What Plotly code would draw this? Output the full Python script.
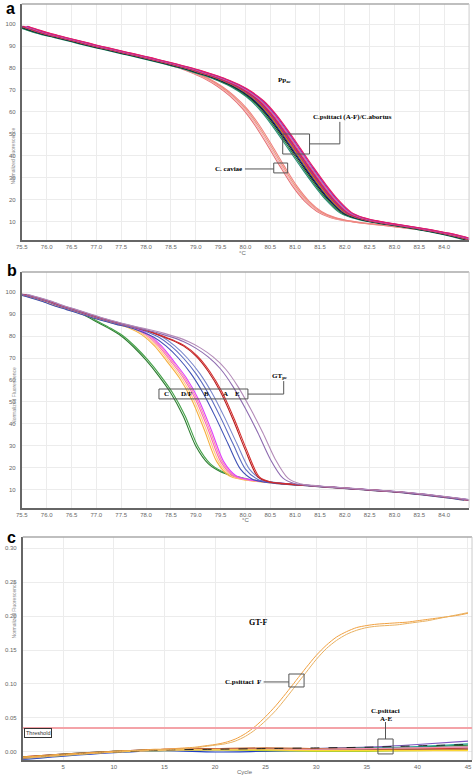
import plotly.graph_objects as go

W, H = 474, 775

# ---------------- DATA ----------------
TEMPS = [75.5, 75.75, 76.0, 76.25, 76.5, 76.75, 77.0, 77.25, 77.5, 77.75,
         78.0, 78.25, 78.5, 78.75, 79.0, 79.25, 79.5, 79.75, 80.0, 80.25,
         80.5, 80.75, 81.0, 81.25, 81.5, 81.75, 82.0, 82.25, 82.5, 82.75,
         83.0, 83.25, 83.5, 83.75, 84.0, 84.25, 84.5]

# Panel a : Pp/ac melt curves
A_MAIN = [99.0, 97.1, 95.4, 94.0, 92.6, 91.2, 89.8, 88.5, 87.2, 85.9,
          84.6, 83.2, 81.8, 80.3, 78.7, 76.9, 74.9, 72.5, 69.3, 65.0,
          58.8, 51.2, 43.0, 34.8, 27.0, 20.0, 14.6, 12.0, 10.6, 9.6,
          8.7, 7.8, 6.9, 5.9, 4.8, 3.5, 2.0]
A_CAVIAE = [99.0, 97.1, 95.4, 94.0, 92.6, 91.2, 89.8, 88.5, 87.2, 85.9,
            84.6, 83.1, 81.5, 79.8, 77.6, 75.0, 71.6, 67.2, 61.5, 54.0,
            45.0, 35.5, 26.5, 19.5, 14.8, 12.2, 10.8, 9.9, 9.2, 8.6,
            8.0, 7.3, 6.6, 5.7, 4.7, 3.4, 2.0]
A_MAIN_SHIFTS = [-0.13, -0.10, -0.07, -0.05, -0.03, -0.02, 0.0, 0.01,
                 0.03, 0.04, 0.06, 0.08, 0.10, 0.12]
A_MAIN_COLORS = ["#2a8c7a", "#1f7a3a", "#111111", "#1a237e", "#3949ab",
                 "#f08c00", "#d7191c", "#8e44ad", "#c2185b", "#d81b60",
                 "#e75480", "#b07cc6", "#9c27b0", "#e91e63"]
A_CAV_SHIFTS = [-0.06, -0.03, 0.0, 0.03]
A_CAV_COLORS = ["#e57373", "#f4a6b0", "#e9967a", "#f08080"]

# Panel b : GTpc melt curves
B_C = [99.0, 97.5, 95.8, 93.8, 92.0, 89.5, 86.5, 83.5, 80.0, 75.0,
       69.0, 62.0, 54.0, 43.5, 30.0, 22.0, 18.3, 16.3, 15.0, 14.1,
       13.5, 12.9, 12.4, 12.0, 11.6, 11.2, 10.8, 10.4, 10.0, 9.6,
       9.2, 8.7, 8.1, 7.5, 6.8, 6.1, 5.3]
B_DF = [99.0, 97.5, 95.8, 93.8, 92.0, 90.2, 88.4, 86.8, 85.3, 83.5,
        80.5, 75.5, 68.5, 61.0, 51.0, 37.5, 23.0, 16.5, 14.8, 14.0,
        13.4, 12.9, 12.4, 12.0, 11.6, 11.2, 10.8, 10.4, 10.0, 9.6,
        9.2, 8.7, 8.1, 7.5, 6.8, 6.1, 5.3]
B_B = [99.0, 97.5, 95.8, 93.8, 92.0, 90.2, 88.4, 86.8, 85.3, 84.0,
       82.0, 79.5, 75.5, 70.0, 63.0, 54.0, 43.0, 31.0, 19.5, 14.8,
       13.5, 12.9, 12.4, 12.0, 11.6, 11.2, 10.8, 10.4, 10.0, 9.6,
       9.2, 8.7, 8.1, 7.5, 6.8, 6.1, 5.3]
B_A = [99.0, 97.5, 95.8, 93.8, 92.0, 90.2, 88.4, 86.8, 85.3, 84.0,
       82.5, 80.5, 78.3, 75.5, 71.0, 64.0, 54.5, 42.0, 28.0, 16.0,
       13.5, 12.9, 12.4, 12.0, 11.6, 11.2, 10.8, 10.4, 10.0, 9.6,
       9.2, 8.7, 8.1, 7.5, 6.8, 6.1, 5.3]
B_E = [99.0, 97.5, 95.8, 93.8, 92.0, 90.2, 88.4, 86.8, 85.3, 84.0,
       82.7, 81.3, 79.6, 77.5, 74.5, 70.5, 65.0, 57.0, 47.0, 36.0,
       24.0, 15.5, 12.8, 12.1, 11.6, 11.2, 10.8, 10.4, 10.0, 9.6,
       9.2, 8.7, 8.1, 7.5, 6.8, 6.1, 5.3]
B_GROUPS = {
    "C": (B_C, [0.0, 0.04], ["#2e7d32", "#43a047"]),
    "D/F": (B_DF, [-0.08, -0.04, 0.0, 0.03, 0.06],
            ["#f5b041", "#ffcc80", "#ff69b4", "#f48fb1", "#e040fb"]),
    "B": (B_B, [-0.10, 0.0, 0.08], ["#3f51b5", "#5c6bc0", "#7986cb"]),
    "A": (B_A, [0.0, 0.03], ["#b71c1c", "#d32f2f"]),
    "E": (B_E, [0.0, 0.10], ["#8e6bb0", "#b38bb8"]),
}

# Panel c : GT-F amplification curves
CYCLES = [1, 2, 3, 4, 5, 6, 7, 8, 9, 10, 11, 12, 13, 14, 15, 16, 17, 18,
          19, 20, 21, 22, 23, 24, 25, 26, 27, 28, 29, 30, 31, 32, 33, 34,
          35, 36, 37, 38, 39, 40, 41, 42, 43, 44, 45]
C_F1 = [-0.008, -0.007, -0.006, -0.005, -0.004, -0.003, -0.002, -0.001,
        0.000, 0.001, 0.002, 0.002, 0.003, 0.004, 0.004, 0.005, 0.006,
        0.007, 0.009, 0.011, 0.014, 0.019, 0.027, 0.038, 0.052, 0.068,
        0.086, 0.105, 0.124, 0.142, 0.157, 0.169, 0.177, 0.183, 0.186,
        0.188, 0.189, 0.190, 0.191, 0.193, 0.195, 0.197, 0.199, 0.201, 0.204]
C_F2 = [-0.009, -0.008, -0.007, -0.006, -0.005, -0.004, -0.003, -0.002,
        -0.001, 0.000, 0.001, 0.002, 0.002, 0.003, 0.004, 0.004, 0.005,
        0.006, 0.008, 0.010, 0.012, 0.016, 0.023, 0.033, 0.046, 0.061,
        0.079, 0.098, 0.117, 0.136, 0.152, 0.164, 0.173, 0.179, 0.183,
        0.185, 0.186, 0.187, 0.189, 0.191, 0.193, 0.196, 0.199, 0.202, 0.205]
C_BASE_CYC = [1, 5, 10, 15, 20, 25, 30, 35, 40, 45]
C_BASE = {
    "#7e57c2": [-0.010, -0.004, 0.000, 0.003, 0.004, 0.004, 0.005, 0.007, 0.011, 0.016],
    "#1e3fbf": [-0.011, -0.006, -0.001, 0.002, 0.000, 0.001, 0.002, 0.003, 0.004, 0.006],
    "#2e7d32": [-0.008, -0.004, 0.001, 0.003, 0.004, 0.004, 0.004, 0.005, 0.007, 0.010],
    "#9acd32": [-0.009, -0.005, 0.000, 0.002, 0.003, 0.002, 0.001, 0.001, 0.002, 0.003],
    "#d32f2f": [-0.007, -0.003, 0.001, 0.004, 0.005, 0.005, 0.005, 0.006, 0.005, 0.006],
    "#26a69a": [-0.008, -0.003, 0.001, 0.003, 0.004, 0.004, 0.005, 0.006, 0.008, 0.012],
    "#9e9e9e": [-0.010, -0.005, 0.000, 0.002, 0.003, 0.004, 0.004, 0.005, 0.006, 0.008],
    "#c0652a": [-0.007, -0.003, 0.001, 0.004, 0.005, 0.006, 0.005, 0.004, 0.004, 0.004],
    "#f48fb1": [-0.009, -0.004, 0.000, 0.003, 0.004, 0.004, 0.004, 0.005, 0.006, 0.007],
    "#fdd835": [-0.008, -0.004, 0.000, 0.003, 0.003, 0.003, 0.002, 0.002, 0.002, 0.002],
}
C_BLACK = [-0.009, -0.004, 0.000, 0.003, 0.004, 0.005, 0.006, 0.007, 0.009, 0.011]
THRESHOLD = 0.0353

A_XTICKS = [75.5, 76.0, 76.5, 77.0, 77.5, 78.0, 78.5, 79.0, 79.5, 80.0,
            80.5, 81.0, 81.5, 82.0, 82.5, 83.0, 83.5, 84.0, 84.5]
AB_YTICKS = [10, 20, 30, 40, 50, 60, 70, 80, 90, 100]
C_XTICKS = [5, 10, 15, 20, 25, 30, 35, 40, 45]
C_YTICKS = [0.0, 0.05, 0.10, 0.15, 0.20, 0.25, 0.30]

# ---------------- FIGURE ----------------
fig = go.Figure()


def add_line(x, y, color, xa, ya, width=1.0, dash="solid"):
    fig.add_trace(go.Scatter(x=x, y=y, mode="lines", xaxis=xa, yaxis=ya,
                             line=dict(color=color, width=width, dash=dash,
                                       shape="spline", smoothing=0.8),
                             hoverinfo="skip", showlegend=False))


for s, c in zip(A_CAV_SHIFTS, A_CAV_COLORS):
    add_line([t + s for t in TEMPS], A_CAVIAE, c, "x", "y", 1.1)
for s, c in zip(A_MAIN_SHIFTS, A_MAIN_COLORS):
    add_line([t + s for t in TEMPS], A_MAIN, c, "x", "y", 1.1)

for name, (vals, shifts, colors) in B_GROUPS.items():
    for s, c in zip(shifts, colors):
        add_line([t + s for t in TEMPS], vals, c, "x2", "y2", 1.1)

for c, vals in C_BASE.items():
    add_line(C_BASE_CYC, vals, c, "x3", "y3", 1.2)
add_line(C_BASE_CYC, C_BLACK, "#222222", "x3", "y3", 1.0, "dash")
add_line(CYCLES, C_F1, "#f0a040", "x3", "y3", 1.0)
add_line(CYCLES, C_F2, "#e8b060", "x3", "y3", 1.0)


def px(x):
    return x / W


def py(y):
    return 1 - y / H


tickfont = dict(family="Liberation Sans, Arial", size=6, color="#666")
common_x = dict(showgrid=True, gridcolor="#ececec", gridwidth=1, zeroline=False,
                showline=True, linecolor="#666", linewidth=2, ticks="",
                tickfont=tickfont)
common_y = dict(showgrid=True, gridcolor="#ececec", gridwidth=1, zeroline=False,
                showline=True, linecolor="#666", linewidth=2, ticks="",
                tickfont=tickfont, ticklabelstandoff=3)

fig.update_layout(
    width=W, height=H, margin=dict(l=0, r=0, t=0, b=0),
    paper_bgcolor="white", plot_bgcolor="white",
    xaxis=dict(domain=[px(16), px(469)], range=[75.5, 84.5], anchor="y",
               tickvals=A_XTICKS, tickformat=".1f", **common_x),
    yaxis=dict(domain=[py(240), py(4)], range=[1.8, 109.1], anchor="x",
               tickvals=AB_YTICKS, **common_y),
    xaxis2=dict(domain=[px(16), px(469)], range=[75.5, 84.5], anchor="y2",
                tickvals=A_XTICKS, tickformat=".1f", **common_x),
    yaxis2=dict(domain=[py(508), py(272)], range=[1.8, 109.1], anchor="x2",
                tickvals=AB_YTICKS, **common_y),
    xaxis3=dict(domain=[px(17), px(472)], range=[1, 45.4], anchor="y3",
                tickvals=C_XTICKS, **common_x),
    yaxis3=dict(domain=[py(760), py(537)], range=[-0.0118, 0.3162], anchor="x3",
                tickvals=C_YTICKS, tickformat=".2f", **common_y),
)

shapes = []
for (x0, x1, yt, yb) in [(16, 469, 4, 240), (16, 469, 272, 508), (17, 472, 537, 760)]:
    shapes.append(dict(type="line", xref="paper", yref="paper", x0=px(x0), x1=px(x1),
                       y0=py(yt), y1=py(yt), line=dict(color="#aaa", width=1.5)))
    shapes.append(dict(type="line", xref="paper", yref="paper", x0=px(x1), x1=px(x1),
                       y0=py(yt), y1=py(yb), line=dict(color="#ccc", width=1)))

box_line = dict(color="#555", width=1)
shapes += [
    dict(type="rect", xref="x", yref="y", x0=80.75, x1=81.29, y0=40.9, y1=50.0, line=box_line),
    dict(type="rect", xref="x", yref="y", x0=80.57, x1=80.85, y0=32.3, y1=36.8, line=box_line),
    dict(type="line", xref="x", yref="y", x0=79.99, x1=80.57, y0=34.1, y1=34.1, line=box_line),
    dict(type="line", xref="x", yref="y", x0=81.29, x1=81.9, y0=45.5, y1=45.5, line=box_line),
    dict(type="line", xref="x", yref="y", x0=81.9, x1=81.9, y0=45.5, y1=55.5, line=box_line),
]
shapes += [
    dict(type="rect", xref="x2", yref="y2", x0=78.26, x1=80.05, y0=51.4, y1=55.9, line=box_line),
    dict(type="line", xref="x2", yref="y2", x0=80.05, x1=80.77, y0=53.6, y1=53.6, line=box_line),
    dict(type="line", xref="x2", yref="y2", x0=80.77, x1=80.77, y0=53.6, y1=59.5, line=box_line),
]
shapes += [
    dict(type="line", xref="x3", yref="y3", x0=1, x1=45.4, y0=THRESHOLD, y1=THRESHOLD,
         line=dict(color="#f4a3a8", width=2)),
    dict(type="rect", xref="x3", yref="y3", x0=27.3, x1=28.8, y0=0.0956, y1=0.1147, line=box_line),
    dict(type="line", xref="x3", yref="y3", x0=24.8, x1=27.3, y0=0.103, y1=0.103, line=box_line),
    dict(type="rect", xref="x3", yref="y3", x0=36.1, x1=37.6, y0=-0.0029, y1=0.0191, line=box_line),
    dict(type="line", xref="x3", yref="y3", x0=36.85, x1=36.85, y0=0.0191, y1=0.0441, line=box_line),
]
fig.update_layout(shapes=shapes)

serif = dict(family="Liberation Serif, Times New Roman", size=7, color="#000")
ann = []


def t(text, x, y, xref, yref, xanchor="center", font=serif, **kw):
    ann.append(dict(text=text, x=x, y=y, xref=xref, yref=yref, xanchor=xanchor,
                    yanchor="middle", showarrow=False, font=font, **kw))


t("<b>Pp<sub>ac</sub></b>", 80.79, 74.5, "x", "y")
t("<b>C.psittaci (A-F)/C.abortus</b>", 81.31, 57.7, "x", "y", "left")
t("<b>C. caviae</b>", 79.97, 34.1, "x", "y", "right")
t("<b>GT<sub>pc</sub></b>", 80.69, 62.0, "x2", "y2")
for lab, xv in [("C", 78.42), ("D/F", 78.82), ("B", 79.22), ("A", 79.6), ("E", 79.85)]:
    t("<b>" + lab + "</b>", xv, 53.6, "x2", "y2")
t("<b>GT-F</b>", 24.2, 0.191, "x3", "y3", font=dict(family="Liberation Serif", size=8, color="#000"))
t("<b>C.psittaci  F</b>", 24.7, 0.103, "x3", "y3", "right")
t("<b>C.psittaci</b>", 36.85, 0.060, "x3", "y3")
t("<b>A-E</b>", 36.85, 0.0485, "x3", "y3")
ann.append(dict(text="Threshold", x=1.15, y=0.0275, xref="x3", yref="y3", xanchor="left",
                yanchor="middle", showarrow=False, bordercolor="#333", borderwidth=1,
                borderpad=1, bgcolor="white",
                font=dict(family="Liberation Sans", size=5.5, color="#333")))

small = dict(family="Liberation Sans, Arial", size=6, color="#666")
t("°C", px(240), py(253), "paper", "paper", font=small)
t("°C", px(243), py(520), "paper", "paper", font=small)
t("Cycle", px(242), py(772), "paper", "paper", font=small)
for yc in [125, 395, 640]:
    ann.append(dict(text="Normalized Fluorescence", x=px(3), y=py(yc), xref="paper",
                    yref="paper", showarrow=False, textangle=-90,
                    font=dict(family="Liberation Sans", size=5, color="#888")))

big = dict(family="Liberation Sans, Arial", size=16, color="#000")
t("<b>a</b>", px(5), py(8), "paper", "paper", font=big)
t("<b>b</b>", px(6), py(270), "paper", "paper", font=big)
t("<b>c</b>", px(6), py(537), "paper", "paper", font=big)

fig.update_layout(annotations=ann)
fig.write_html("out.html")
